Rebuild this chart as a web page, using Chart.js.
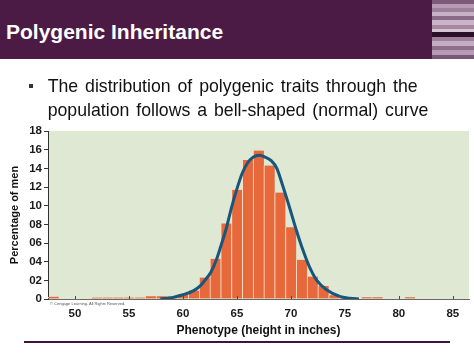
<!DOCTYPE html>
<html>
<head>
<meta charset="utf-8">
<script src="https://cdn.jsdelivr.net/npm/chart.js@4.4.0/dist/chart.umd.min.js"></script>
<style>
html,body{margin:0;padding:0;background:#fff;width:474px;height:355px;overflow:hidden;font-family:"Liberation Sans",Arial,sans-serif;}
#chartWrap{position:absolute;left:0;top:0;width:474px;height:355px;}
#hdr{position:absolute;left:0;top:0;width:474px;height:59px;background:#4b1b46;}
#deco{position:absolute;left:432px;top:0;width:42px;height:59px;
background:linear-gradient(to bottom,#7d5a79 0px,#7d5a79 4px,#b79ab4 4px,#b79ab4 8px,#a07f9d 8px,#a07f9d 12px,#c8b2c6 12px,#c8b2c6 16px,#8c6a89 16px,#8c6a89 20px,#c9b5c7 20px,#c9b5c7 25px,#a8879f 25px,#a8879f 29px,#d4c3d2 29px,#d4c3d2 32px,#2a0f28 32px,#2a0f28 37px,#9f7f9b 37px,#9f7f9b 41px,#c4aec2 41px,#c4aec2 46px,#8f6e8c 46px,#8f6e8c 50px,#b49ab2 50px,#b49ab2 55px,#7b5777 55px,#7b5777 59px);}
#title{position:absolute;left:6px;top:20.5px;color:#fff;font-weight:bold;font-size:21px;line-height:21px;white-space:nowrap;}
.bl{position:absolute;left:47.7px;font-size:17.7px;line-height:17.7px;word-spacing:2px;color:#111;white-space:nowrap;}
#bul{position:absolute;left:29px;top:84px;width:3.5px;height:3.5px;background:#333;}
#copy{position:absolute;left:50px;top:302px;font-size:4px;line-height:4px;color:#555;white-space:nowrap;}
#rule{position:absolute;left:24px;top:341px;width:426px;height:2px;background:#3e1538;}
</style>
</head>
<body>
<div id="chartWrap"><canvas id="c" width="474" height="355"></canvas></div>
<div id="hdr"><div id="deco"></div><div id="title">Polygenic Inheritance</div></div>
<div id="bul"></div>
<div class="bl" style="top:77.7px">The distribution of polygenic traits through the</div>
<div class="bl" style="top:102px">population follows a bell-shaped (normal) curve</div>
<div id="copy">© Cengage Learning. All Rights Reserved.</div>
<div id="rule"></div>
<script>
// Histogram: height in inches -> percentage of men
const heightsIn = [48,49,50,51,52,53,54,55,56,57,58,59,60,61,62,63,64,65,66,67,68,69,70,71,72,73,74,75,76,77,78,79,80,81];
const percentMen = [0.25,0,0,0,0.15,0.15,0.15,0.15,0.15,0.3,0.3,0.3,0.5,0.9,2.3,4.3,8.1,11.7,14.9,15.9,14.3,11.4,7.7,4.2,2.4,1.4,0.4,0.2,0,0.2,0.2,0,0,0.2];
// Bell curve
const curveX = [57.9,59,60,61,61.6,62.1,62.6,63.1,63.6,64,64.5,65,65.5,66,66.5,67.1,67.6,68.2,68.7,69.2,69.8,70.5,71.1,71.7,72.4,73.3,74.6,76.3];
const curveY = [0,0.15,0.45,0.9,1.4,2.1,2.9,4.2,6.0,7.5,9.8,11.8,13.5,14.6,15.2,15.4,15.2,14.8,14.0,12.3,10.1,7.4,5.3,3.5,2.0,1.0,0.25,0];
const xTickValues = [50,55,60,65,70,75,80,85];
const yTickLabels = ['0','02','04','06','08','10','12','14','16','18'];

const bgPlugin = {
  id:'bg',
  beforeDraw(chart){
    const {ctx, chartArea:a} = chart;
    ctx.save();
    ctx.fillStyle = '#dee8d2';
    ctx.fillRect(a.left, a.top, a.right-a.left, a.bottom-a.top);
    ctx.restore();
  },
  afterDatasetsDraw(chart){
    const {ctx, chartArea:a} = chart;
    const xs = chart.scales.x;
    ctx.save();
    ctx.strokeStyle = '#4a4a4a';
    ctx.lineWidth = 1;
    xs.ticks.forEach(t=>{
      const px = Math.round(xs.getPixelForValue(t.value))+0.5;
      ctx.beginPath(); ctx.moveTo(px, a.bottom); ctx.lineTo(px, a.bottom-3); ctx.stroke();
    });
    ctx.restore();
  }
};

new Chart(document.getElementById('c'), {
  type:'bar',
  data:{
    datasets:[
      {
        type:'line',
        data: curveX.map((x,i)=>({x:x, y:curveY[i]})),
        borderColor:'#17577c',
        borderWidth:3,
        pointRadius:0,
        cubicInterpolationMode:'monotone',
        fill:false,
        order:0
      },
      {
        type:'bar',
        data: heightsIn.map((x,i)=>({x:x, y:percentMen[i]})),
        backgroundColor:'#e6683b',
        borderColor:'rgba(255,222,200,0.95)',
        borderWidth:{left:1,right:0,top:0,bottom:0},
        borderSkipped:'bottom',
        barPercentage:1,
        categoryPercentage:1,
        order:1
      }
    ]
  },
  options:{
    responsive:false,
    animation:false,
    events:[],
    layout:{padding:{top:131,left:0,right:5,bottom:0}},
    plugins:{legend:{display:false},tooltip:{enabled:false}},
    scales:{
      x:{
        type:'linear', min:47.5, max:86.5, offset:false,
        afterBuildTicks(s){ s.ticks = xTickValues.map(v=>({value:v})); },
        afterFit(s){ s.height = 56; },
        ticks:{font:{family:'"Liberation Sans", Arial, sans-serif', weight:'bold', size:11.5}, color:'#1a1a1a', padding:8, maxRotation:0, autoSkip:false},
        grid:{display:true, drawOnChartArea:false, drawTicks:false, offset:false},
        border:{display:true, color:'#6e6660', width:1},
        title:{display:true, text:'Phenotype (height in inches)', font:{family:'"Liberation Sans", Arial, sans-serif', weight:'bold', size:12}, color:'#111', padding:{top:0,bottom:17}}
      },
      y:{
        min:0, max:18,
        afterFit(s){ s.width = 48; },
        ticks:{stepSize:2, callback:(v)=>yTickLabels[Math.round(v/2)], font:{family:'"Liberation Sans", Arial, sans-serif', weight:'bold', size:11.5}, color:'#1a1a1a', padding:2},
        grid:{display:true, drawOnChartArea:false, tickLength:4, color:'#333'},
        border:{display:true, color:'#333', width:1},
        title:{display:true, text:'Percentage of men', font:{family:'"Liberation Sans", Arial, sans-serif', weight:'bold', size:11}, color:'#111', padding:{top:8,bottom:0}}
      }
    }
  },
  plugins:[bgPlugin]
});
</script>
</body>
</html>
